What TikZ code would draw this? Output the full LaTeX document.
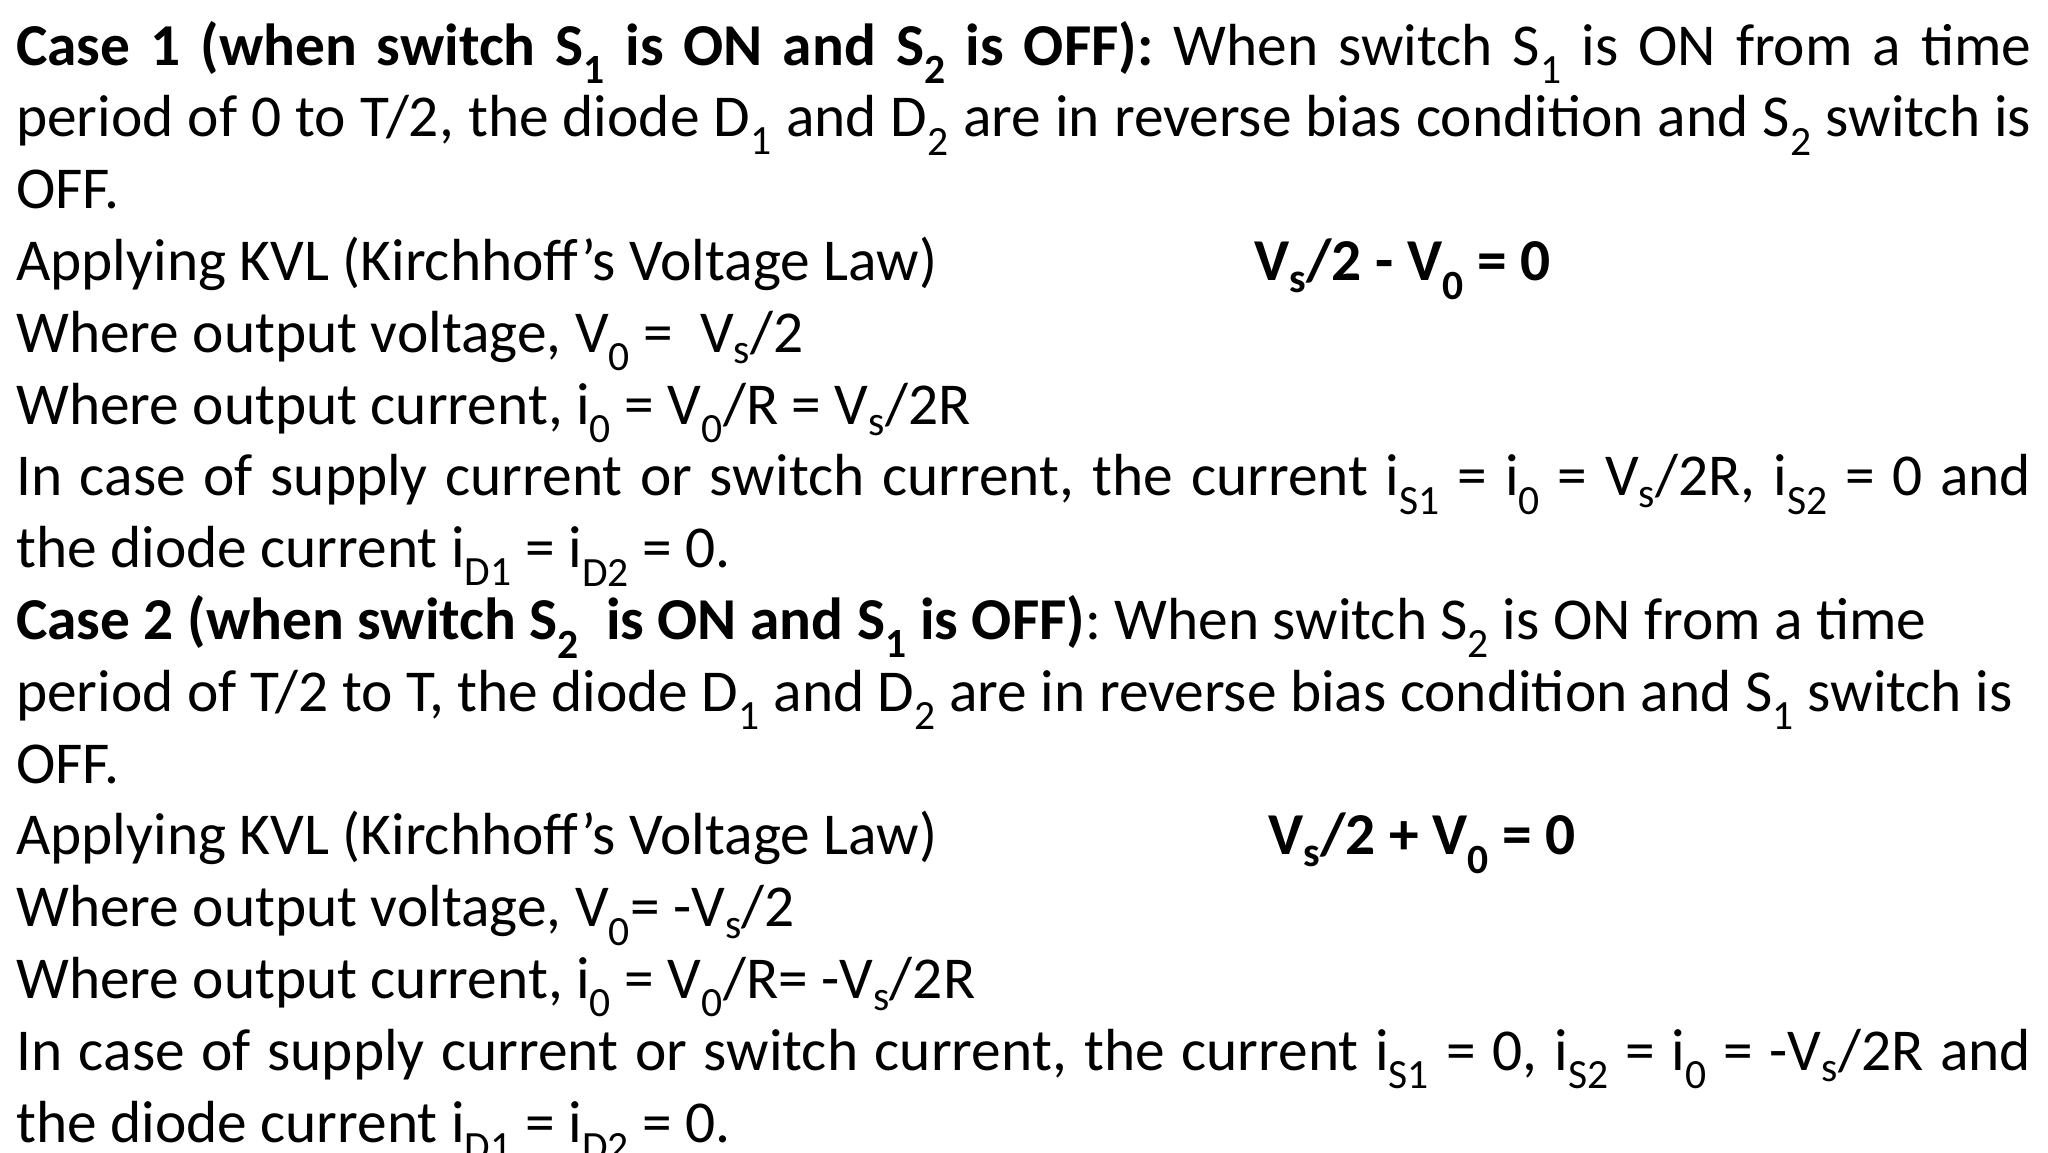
\documentclass[tikz,border=0pt]{standalone}
\usepackage{fontspec}
\setmainfont{Carlito}
\newcommand{\sbx}[1]{\textsubscript{#1}}
\newcommand{\jl}[1]{\makebox[2015pt][s]{#1}}
\begin{document}
\begin{tikzpicture}[x=1pt,y=-1pt,txt/.style={anchor=base west,inner sep=0pt,font=\fontsize{59.4}{70}\selectfont}]
\useasboundingbox (0,0) rectangle (2048,1152);
\def\L{71.8}
\node[txt] (l1) at (16,65) {\jl{\textbf{Case 1 (when switch S\sbx{1} is ON and S\sbx{2} is OFF):} When switch S\sbx{1} is ON from a time}};
\node[txt] (l2) at (16,65+\L) {\jl{period of 0 to T/2, the diode D\sbx{1} and D\sbx{2} are in reverse bias condition and S\sbx{2} switch is}};
\node[txt] (l3) at (16,65+2*\L) {OFF.};
\node[txt] (l4) at (16,65+3*\L) {Applying KVL (Kirchhoff’s Voltage Law)};
\node[txt] (e1) at (1254,65+3*\L) {\textbf{V\sbx{s}/2 - V\sbx{0} = 0}};
\node[txt] (l5) at (16,65+4*\L) {Where output voltage, V\sbx{0} =\ \ V\sbx{s}/2};
\node[txt] (l6) at (16,65+5*\L) {Where output current, i\sbx{0} = V\sbx{0}/R = V\sbx{s}/2R};
\node[txt] (l7) at (16,65+6*\L) {\jl{In case of supply current or switch current, the current i\sbx{S1} = i\sbx{0} = V\sbx{s}/2R, i\sbx{S2} = 0 and}};
\node[txt] (l8) at (16,65+7*\L) {the diode current i\sbx{D1} = i\sbx{D2} = 0.};
\node[txt] (l9) at (16,65+8*\L) {\textbf{Case 2 (when switch S\sbx{2}\ \ is ON and S\sbx{1} is OFF)}: When switch S\sbx{2} is ON from a time};
\node[txt] (l10) at (16,65+9*\L) {period of T/2 to T, the diode D\sbx{1} and D\sbx{2} are in reverse bias condition and S\sbx{1} switch is};
\node[txt] (l11) at (16,65+10*\L) {OFF.};
\node[txt] (l12) at (16,65+11*\L) {Applying KVL (Kirchhoff’s Voltage Law)};
\node[txt] (e2) at (1268,65+11*\L) {\textbf{V\sbx{s}/2 + V\sbx{0} = 0}};
\node[txt] (l13) at (16,65+12*\L) {Where output voltage, V\sbx{0}= -V\sbx{s}/2};
\node[txt] (l14) at (16,65+13*\L) {Where output current, i\sbx{0} = V\sbx{0}/R= -V\sbx{s}/2R};
\node[txt] (l15) at (16,65+14*\L) {\jl{In case of supply current or switch current, the current i\sbx{S1} = 0, i\sbx{S2} = i\sbx{0} = -V\sbx{s}/2R and}};
\node[txt] (l16) at (16,65+15*\L) {the diode current i\sbx{D1} = i\sbx{D2} = 0.};
\end{tikzpicture}
\end{document}
